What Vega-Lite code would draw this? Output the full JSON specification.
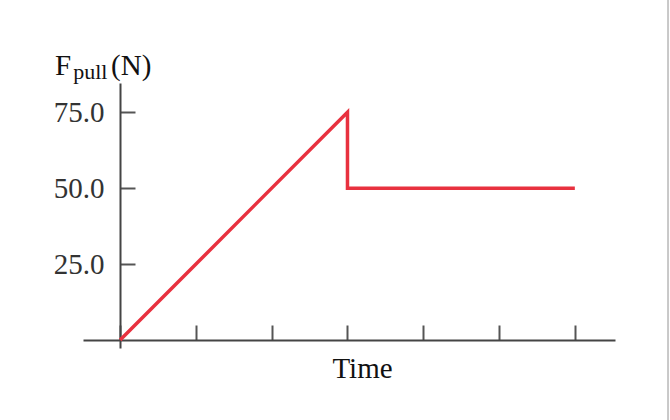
{
  "$schema": "https://vega.github.io/schema/vega-lite/v6.json",
  "autosize": "none",
  "width": 532,
  "height": 265,
  "padding": {"left": 83, "top": 83, "right": 55, "bottom": 72},
  "background": "white",
  "config": {"view": {"stroke": null}, "font": "Liberation Serif"},
  "layer": [
    {
      "data": {"values": [
        {"t": 0, "F": 0},
        {"t": 3, "F": 75},
        {"t": 3, "F": 50},
        {"t": 6, "F": 50}
      ]},
      "mark": {"type": "line", "color": "#e8313f", "strokeWidth": 3.5, "clip": false},
      "encoding": {
        "x": {"field": "t", "type": "quantitative",
          "scale": {"domain": [-0.49, 6.53], "nice": false, "zero": false},
          "axis": {"values": [0, 1, 2, 3, 4, 5, 6], "labels": false, "grid": false, "offset": -8,
            "tickSize": -15, "tickWidth": 2, "tickColor": "#555555",
            "domainColor": "#444444", "domainWidth": 2,
            "title": "Time", "titleFont": "Liberation Serif", "titleFontSize": 29, "titleFontWeight": "normal",
            "titleColor": "#111111", "titleX": 279, "titleY": 37, "titleBaseline": "alphabetic", "titleAnchor": "middle"}},
        "y": {"field": "F", "type": "quantitative",
          "scale": {"domain": [-2.6, 84.6], "nice": false, "zero": false},
          "axis": {"values": [25, 50, 75], "format": ".1f", "grid": false, "offset": -37,
            "tickSize": -15, "tickWidth": 2, "tickColor": "#555555",
            "domainColor": "#444444", "domainWidth": 2,
            "labelFont": "Liberation Serif", "labelFontSize": 29, "labelColor": "#333333", "labelPadding": 31,
            "title": null}}
      }
    },
    {
      "data": {"values": [{}]},
      "mark": {"type": "text", "text": "F", "font": "Liberation Serif", "fontSize": 29, "align": "left", "baseline": "alphabetic", "color": "#111111", "clip": false},
      "encoding": {"x": {"datum": -0.858, "type": "quantitative"}, "y": {"datum": 87.2, "type": "quantitative"}}
    },
    {
      "data": {"values": [{}]},
      "mark": {"type": "text", "text": "pull", "font": "Liberation Serif", "fontSize": 22, "align": "left", "baseline": "alphabetic", "color": "#111111", "clip": false},
      "encoding": {"x": {"datum": -0.62, "type": "quantitative"}, "y": {"datum": 85.9, "type": "quantitative"}}
    },
    {
      "data": {"values": [{}]},
      "mark": {"type": "text", "text": "(N)", "font": "Liberation Serif", "fontSize": 29, "align": "left", "baseline": "alphabetic", "color": "#111111", "clip": false},
      "encoding": {"x": {"datum": -0.12, "type": "quantitative"}, "y": {"datum": 87.2, "type": "quantitative"}}
    },
    {
      "data": {"values": [{}]},
      "mark": {"type": "rule", "color": "#c8c8c8", "strokeWidth": 2, "clip": false},
      "encoding": {"x": {"datum": 7.23, "type": "quantitative"}, "y": {"datum": -27, "type": "quantitative"}, "y2": {"datum": 112}}
    }
  ]
}
